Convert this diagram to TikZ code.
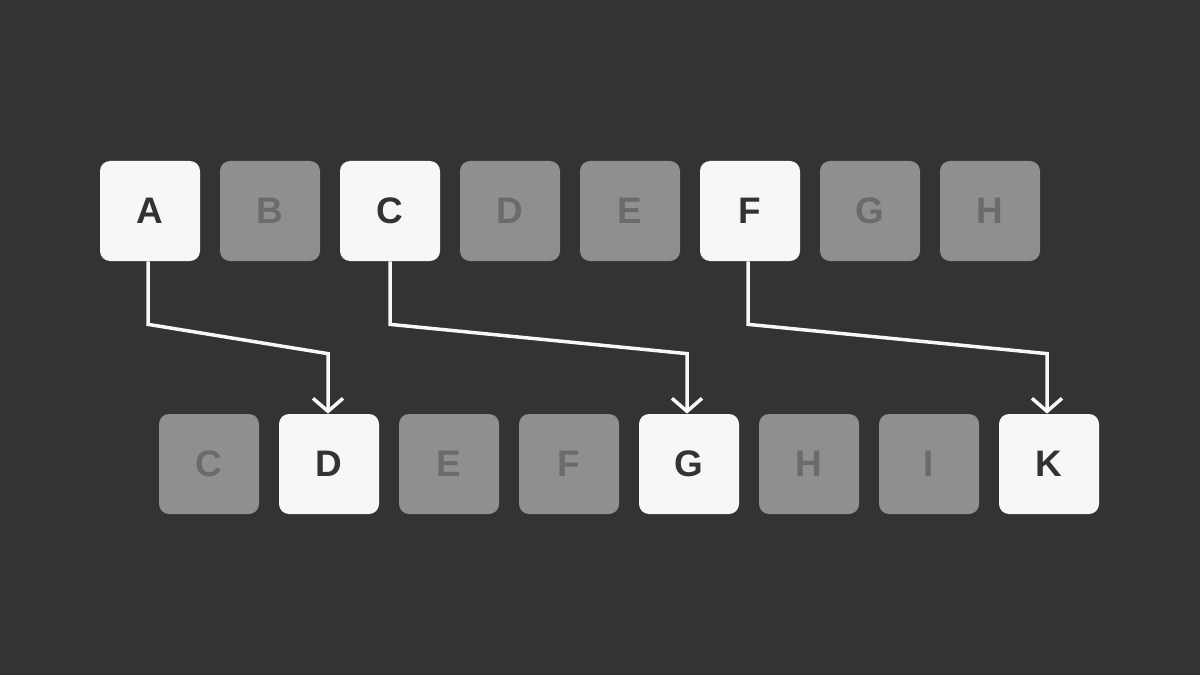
\documentclass[tikz,border=0pt]{standalone}
\usepackage{fontspec}
\setmainfont{Liberation Sans}
\usetikzlibrary{arrows.meta}
\definecolor{bgdark}{HTML}{333333}
\definecolor{boxon}{HTML}{F7F7F7}
\definecolor{boxoff}{HTML}{8F8F8F}
\definecolor{txtoff}{HTML}{6B6B6B}

\begin{document}
\begin{tikzpicture}[
    on/.style={rectangle, rounded corners=0.2cm, fill=boxon, text=bgdark, minimum width=2cm, minimum height=2cm, font=\fontsize{21}{24}\selectfont\bfseries},
    off/.style={on, fill=boxoff, text=txtoff},
    link/.style={draw=boxon, line width=0.07cm, -{Straight Barb[length=0.26cm, width=0.6cm]}}]

    \fill[bgdark] (0,0) rectangle (24,13.5);
    \useasboundingbox (0,0) rectangle (24,13.5);

    % top row
    \node[on] (a1) at (3,9.28) {A};
    \node[off] (b1) at (5.4,9.28) {B};
    \node[on] (c1) at (7.8,9.28) {C};
    \node[off] (d1) at (10.2,9.28) {D};
    \node[off] (e1) at (12.6,9.28) {E};
    \node[on] (f1) at (15,9.28) {F};
    \node[off] (g1) at (17.4,9.28) {G};
    \node[off] (h1) at (19.8,9.28) {H};

    % bottom row
    \node[off] (c2) at (4.18,4.22) {C};
    \node[on] (d2) at (6.58,4.22) {D};
    \node[off] (e2) at (8.98,4.22) {E};
    \node[off] (f2) at (11.38,4.22) {F};
    \node[on] (g2) at (13.78,4.22) {G};
    \node[off] (h2) at (16.18,4.22) {H};
    \node[off] (i2) at (18.58,4.22) {I};
    \node[on] (k2) at (20.98,4.22) {K};

    \draw[link] ([xshift=-0.04cm]a1.south) -- ++(0,-1.26) -- ([xshift=-0.02cm, yshift=1.2cm]d2.north) -- ([xshift=-0.02cm]d2.north);
    \draw[link] (c1.south) -- ++(0,-1.26) -- ([xshift=-0.04cm, yshift=1.2cm]g2.north) -- ([xshift=-0.04cm]g2.north);
    \draw[link] ([xshift=-0.04cm]f1.south) -- ++(0,-1.26) -- ([xshift=-0.04cm, yshift=1.2cm]k2.north) -- ([xshift=-0.04cm]k2.north);
\end{tikzpicture}
\end{document}
